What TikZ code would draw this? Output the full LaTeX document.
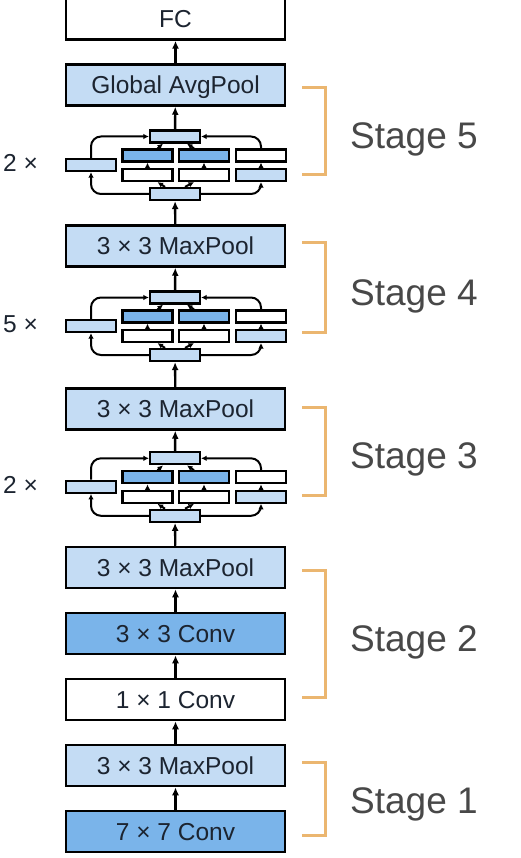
\documentclass[tikz,border=0pt]{standalone}
\usepackage{fontspec}
\setmainfont{Liberation Sans}
\usetikzlibrary{positioning, arrows.meta}

\definecolor{lblue}{RGB}{196,220,244}
\definecolor{dblue}{RGB}{122,180,234}
\definecolor{stagebar}{RGB}{235,182,112}
\definecolor{stagetext}{RGB}{72,72,72}
\definecolor{boxtext}{RGB}{28,36,48}

\begin{document}
\begin{tikzpicture}[x=1pt, y=-1pt, node distance=66pt, on grid,
		>={Latex[length=8pt,width=7pt]},
		layer/.style={draw, line width=2.5pt, minimum width=219pt, minimum height=41pt,
			inner sep=0pt, text height=17.5pt, text depth=0pt,
			font=\fontsize{24.5}{24.5}\selectfont, text=boxtext},
		cell/.style={draw, line width=2.2pt, minimum width=50pt, minimum height=12pt, inner sep=0pt},
		link/.style={-{Latex[length=5.5pt,width=5.5pt]}, line width=2pt},
		bar/.style={stagebar, line width=3pt},
		stagelabel/.style={anchor=base west, inner sep=0pt, text=stagetext,
			font=\fontsize{37}{37}\selectfont}]
	\useasboundingbox (0,0) rectangle (520,858);

	% main column
	\node[layer] (fc) at (175.5,19) {FC};
	\node[layer, fill=lblue, below=of fc] (gap) {Global AvgPool};
	\node[layer, fill=lblue] (pool4) at (175.5,246) {3 × 3 MaxPool};
	\node[layer, fill=lblue] (pool3) at (175.5,409) {3 × 3 MaxPool};
	\node[layer, fill=lblue] (pool2) at (175.5,567.5) {3 × 3 MaxPool};
	\node[layer, fill=dblue, below=of pool2] (conv3) {3 × 3 Conv};
	\node[layer, below=of conv3] (conv1) {1 × 1 Conv};
	\node[layer, fill=lblue, below=of conv1] (pool1) {3 × 3 MaxPool};
	\node[layer, fill=dblue, below=of pool1] (conv7) {7 × 7 Conv};

	% inception blocks
	\foreach \s/\y/\k in {5/136.5/2, 4/297.5/5, 3/458.3/2} {
		\node[cell, fill=lblue] (out\s) at (175,\y) {};
		\node[cell, fill=dblue] (u1\s) at (147.5,\y+19) {};
		\node[cell, fill=dblue] (u2\s) at (204,\y+19) {};
		\node[cell] (u3\s) at (261,\y+19) {};
		\node[cell] (l1\s) at (147.5,\y+38.5) {};
		\node[cell] (l2\s) at (204,\y+38.5) {};
		\node[cell, fill=lblue] (l3\s) at (261,\y+38.5) {};
		\node[cell, fill=lblue] (p\s) at (91,\y+28.5) {};
		\node[cell, fill=lblue] (in\s) at (175,\y+57.5) {};
		\node[anchor=base west, inner sep=0pt, text=boxtext,
			font=\fontsize{24.5}{24.5}\selectfont] (rep\s) at (3,\y+35) {\k\ ×};

		\draw[link, rounded corners=10pt] (in\s.west) -| (p\s.south);
		\draw[link, rounded corners=10pt] (p\s.north) |- (out\s.west);
		\draw[link, rounded corners=10pt] (in\s.east) -| (l3\s.south);
		\draw[link, rounded corners=10pt] (u3\s.north) |- (out\s.east);
		\draw[link] ([xshift=-10pt]in\s.north) -- ([xshift=10pt]l1\s.south);
		\draw[link] ([xshift=10pt]in\s.north) -- ([xshift=-10pt]l2\s.south);
		\draw[link] (l1\s) -- (u1\s);
		\draw[link] (l2\s) -- (u2\s);
		\draw[link] (l3\s) -- (u3\s);
		\draw[link] ([xshift=10pt]u1\s.north) -- ([xshift=-12pt]out\s.south);
		\draw[link] ([xshift=-10pt]u2\s.north) -- ([xshift=12pt]out\s.south);
	}

	\draw[->, line width=2.4pt] (conv7) -- (pool1);
	\draw[->, line width=2.4pt] (pool1) -- (conv1);
	\draw[->, line width=2.4pt] (conv1) -- (conv3);
	\draw[->, line width=2.4pt] (conv3) -- (pool2);
	\draw[->, line width=2.4pt] (pool2) -- (in3);
	\draw[->, line width=2.4pt] (out3) -- (pool3);
	\draw[->, line width=2.4pt] (pool3) -- (in4);
	\draw[->, line width=2.4pt] (out4) -- (pool4);
	\draw[->, line width=2.4pt] (pool4) -- (in5);
	\draw[->, line width=2.4pt] (out5) -- (gap);
	\draw[->, line width=2.4pt] (gap) -- (fc);

	% stage brackets
	\foreach \t/\b/\base/\k in {88/175/148.3/5, 243/332/305/4, 407/495/468.3/3,
			570/697/651.7/2, 762/835/813.3/1} {
		\draw[bar] (302,\t) -- (325,\t) -- (325,\b) -- (302,\b);
		\node[stagelabel] (st\k) at (350,\base) {Stage \k};
	}
\end{tikzpicture}
\end{document}
